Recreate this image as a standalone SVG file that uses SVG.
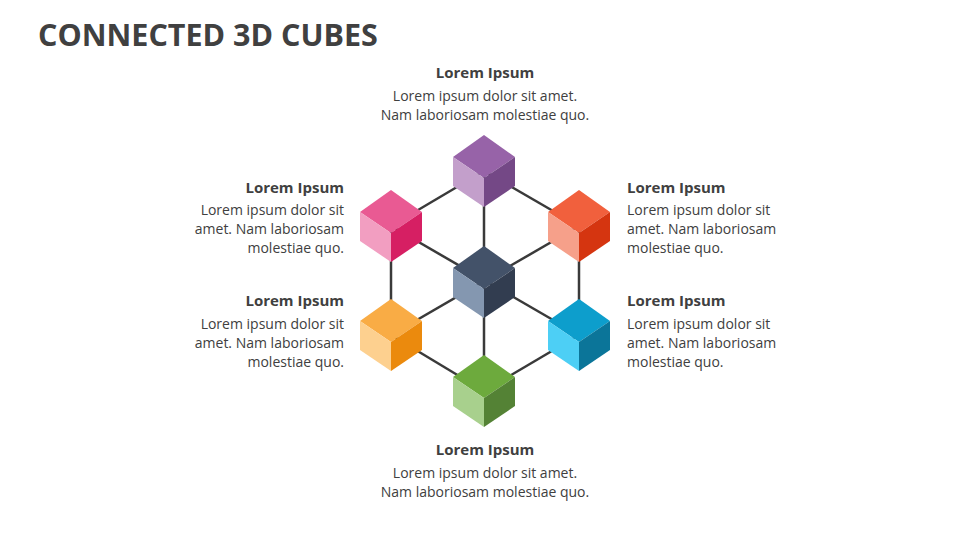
<svg xmlns="http://www.w3.org/2000/svg" width="960" height="540" viewBox="0 0 960 540">
<style>
text{font-family:"Open Sans","Liberation Sans",sans-serif;fill:#404040}
.t{font-size:30.5px;font-weight:bold}
.h{font-size:15px;font-weight:bold}
.b{font-size:14px}
.l line{stroke:#3a3a3a;stroke-width:2.5}
</style>
<defs>
<path id="tp" d="M0 0L31 22L0 43L-31 22Z"/>
<path id="lf" d="M-31 22L0 43L0 72L-31 51Z"/>
<path id="rf" d="M31 22L0 43L0 72L31 51Z"/>
</defs>
<rect width="960" height="540" fill="#fff"/>
<text class="t" x="38" y="46">CONNECTED 3D CUBES</text>
<g class="l" id="connectors">
<line x1="484" y1="171" x2="391" y2="226"/><line x1="484" y1="171" x2="579" y2="226"/>
<line x1="391" y1="226" x2="391" y2="335"/><line x1="579" y1="226" x2="579" y2="335"/>
<line x1="391" y1="335" x2="484" y2="391"/><line x1="579" y1="335" x2="484" y2="391"/>
<line x1="484" y1="171" x2="484" y2="391"/>
<line x1="391" y1="226" x2="579" y2="335"/><line x1="579" y1="226" x2="391" y2="335"/>
</g>
<g id="cube-top" transform="translate(484,135)"><use href="#tp" fill="#9763A8"/><use href="#lf" fill="#C39FCB"/><use href="#rf" fill="#744886"/></g>
<g id="cube-pink" transform="translate(391,190)"><use href="#tp" fill="#E95A93"/><use href="#lf" fill="#F29EC1"/><use href="#rf" fill="#D61F63"/></g>
<g id="cube-red" transform="translate(579,190)"><use href="#tp" fill="#F1603D"/><use href="#lf" fill="#F6A08A"/><use href="#rf" fill="#D53510"/></g>
<g id="cube-center" transform="translate(484,246)"><use href="#tp" fill="#435269"/><use href="#lf" fill="#8497B0"/><use href="#rf" fill="#323D50"/></g>
<g id="cube-yellow" transform="translate(391,299)"><use href="#tp" fill="#F9AC45"/><use href="#lf" fill="#FDD08F"/><use href="#rf" fill="#EB8A0D"/></g>
<g id="cube-blue" transform="translate(579,299)"><use href="#tp" fill="#0D9ECC"/><use href="#lf" fill="#4DCFF5"/><use href="#rf" fill="#0B7599"/></g>
<g id="cube-green" transform="translate(484,355)"><use href="#tp" fill="#6DAA3D"/><use href="#lf" fill="#A8D08D"/><use href="#rf" fill="#548235"/></g>
<g id="label-top" text-anchor="middle"><text class="h" x="485" y="78">Lorem Ipsum</text><text class="b" x="485" y="101">Lorem ipsum dolor sit amet.</text><text class="b" x="485" y="120">Nam laboriosam molestiae quo.</text></g>
<g id="label-bottom" text-anchor="middle"><text class="h" x="485" y="455">Lorem Ipsum</text><text class="b" x="485" y="478">Lorem ipsum dolor sit amet.</text><text class="b" x="485" y="497">Nam laboriosam molestiae quo.</text></g>
<g id="label-lt" text-anchor="end"><text class="h" x="344" y="193">Lorem Ipsum</text><text class="b" x="344" y="215">Lorem ipsum dolor sit</text><text class="b" x="344" y="234">amet. Nam laboriosam</text><text class="b" x="344" y="253">molestiae quo.</text></g>
<g id="label-lb" text-anchor="end"><text class="h" x="344" y="306">Lorem Ipsum</text><text class="b" x="344" y="329">Lorem ipsum dolor sit</text><text class="b" x="344" y="348">amet. Nam laboriosam</text><text class="b" x="344" y="367">molestiae quo.</text></g>
<g id="label-rt"><text class="h" x="627" y="193">Lorem Ipsum</text><text class="b" x="627" y="215">Lorem ipsum dolor sit</text><text class="b" x="627" y="234">amet. Nam laboriosam</text><text class="b" x="627" y="253">molestiae quo.</text></g>
<g id="label-rb"><text class="h" x="627" y="306">Lorem Ipsum</text><text class="b" x="627" y="329">Lorem ipsum dolor sit</text><text class="b" x="627" y="348">amet. Nam laboriosam</text><text class="b" x="627" y="367">molestiae quo.</text></g>
</svg>
